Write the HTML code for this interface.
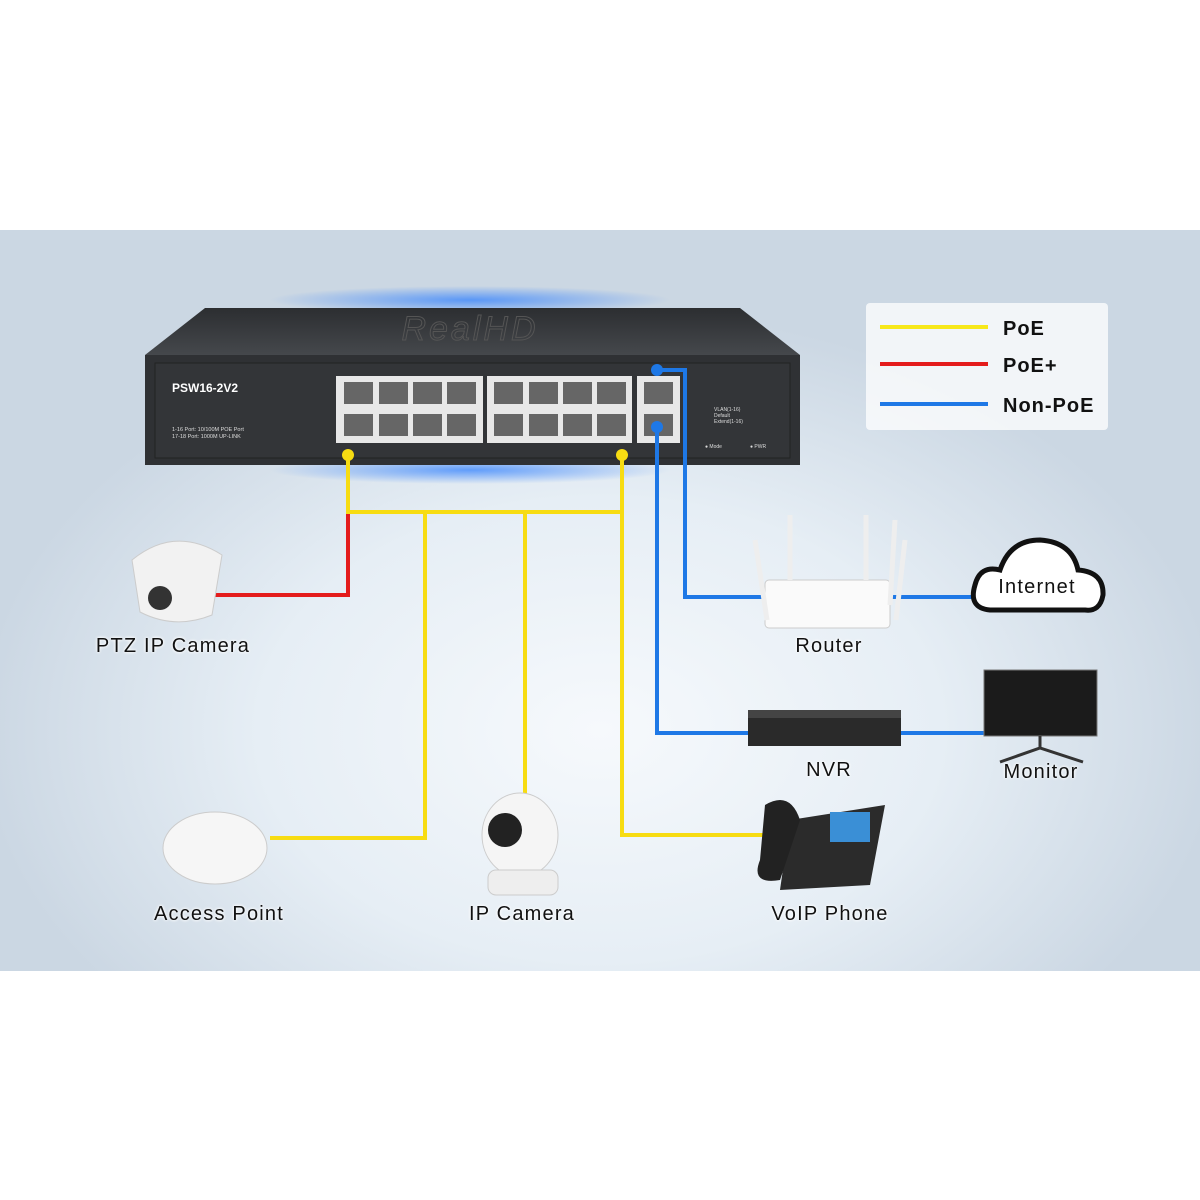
<!DOCTYPE html>
<html><head><style>
body{margin:0;width:1200px;height:1200px;background:#fff;position:relative;overflow:hidden;font-family:"Liberation Sans",sans-serif}
.bg{position:absolute;left:0;top:230px;width:1200px;height:741px;background:radial-gradient(ellipse 620px 420px at 600px 500px,#f6f9fc 0%,#e6eef5 55%,#cbd7e3 100%)}
.lbl{position:absolute;font-size:20px;letter-spacing:1.2px;color:#111;text-shadow:0 0 3px #fff,0 0 3px #fff;transform:translateX(-50%);white-space:nowrap}
</style></head><body>
<div class="bg"></div>
<svg width="1200" height="1200" style="position:absolute;left:0;top:0">
<defs>
<radialGradient id="glow" cx="50%" cy="50%" r="50%"><stop offset="0" stop-color="#2a7cff" stop-opacity=".7"/><stop offset="1" stop-color="#2a7cff" stop-opacity="0"/></radialGradient>
<linearGradient id="top" x1="0" y1="0" x2="0" y2="1"><stop offset="0" stop-color="#2c2e31"/><stop offset="1" stop-color="#45484c"/></linearGradient>
</defs>
<ellipse cx="470" cy="300" rx="200" ry="14" fill="url(#glow)"/>
<ellipse cx="470" cy="470" rx="200" ry="14" fill="url(#glow)"/>
<polygon points="205,308 740,308 800,355 145,355" fill="url(#top)"/>
<text x="470" y="340" font-size="34" font-style="italic" fill="none" stroke="#555" font-family="Liberation Sans" text-anchor="middle" letter-spacing="3">RealHD</text>
<rect x="145" y="355" width="655" height="110" fill="#2f3134"/>
<rect x="155" y="363" width="635" height="95" fill="#333538" stroke="#222" />
<text x="172" y="392" font-size="12" font-weight="bold" fill="#fff">PSW16-2V2</text>
<text x="172" y="431" font-size="5.5" fill="#ddd">1-16 Port: 10/100M POE Port</text>
<text x="172" y="438" font-size="5.5" fill="#ddd">17-18 Port: 1000M UP-LINK</text>
<rect x="336" y="376" width="147" height="67" fill="#e8e8e8"/>
<rect x="487" y="376" width="145" height="67" fill="#e8e8e8"/>
<rect x="637" y="376" width="43" height="67" fill="#e8e8e8"/>
<g fill="#666">
<rect x="344" y="382" width="29" height="22"/><rect x="379" y="382" width="29" height="22"/><rect x="413" y="382" width="29" height="22"/><rect x="447" y="382" width="29" height="22"/>
<rect x="344" y="414" width="29" height="22"/><rect x="379" y="414" width="29" height="22"/><rect x="413" y="414" width="29" height="22"/><rect x="447" y="414" width="29" height="22"/>
<rect x="494" y="382" width="29" height="22"/><rect x="529" y="382" width="29" height="22"/><rect x="563" y="382" width="29" height="22"/><rect x="597" y="382" width="29" height="22"/>
<rect x="494" y="414" width="29" height="22"/><rect x="529" y="414" width="29" height="22"/><rect x="563" y="414" width="29" height="22"/><rect x="597" y="414" width="29" height="22"/>
<rect x="644" y="382" width="29" height="22"/><rect x="644" y="414" width="29" height="22"/>
</g>
<text x="705" y="448" font-size="5" fill="#ddd">● Mode</text><text x="750" y="448" font-size="5" fill="#ddd">● PWR</text>
<text x="714" y="411" font-size="5" fill="#ddd">VLAN(1-16)</text><text x="714" y="417" font-size="5" fill="#ddd">Default</text><text x="714" y="423" font-size="5" fill="#ddd">Extend(1-16)</text>
<g fill="none" stroke-width="4">
<path d="M348,512 V595 H210" stroke="#e41c1c"/>
<path d="M348,455 V512 H622 V455 M425,512 V838 H270 M525,512 V795 M622,512 V835 H770" stroke="#f7dc12"/>
<path d="M657,427 V733 H750 M900,733 H985 M657,370 H685 V597 H765 M890,597 H975" stroke="#1e78e6"/>
</g>
<circle cx="348" cy="455" r="6" fill="#f7dc12"/><circle cx="622" cy="455" r="6" fill="#f7dc12"/>
<circle cx="657" cy="370" r="6" fill="#1e78e6"/><circle cx="657" cy="427" r="6" fill="#1e78e6"/>
<rect x="866" y="303" width="242" height="127" rx="4" fill="#fff" fill-opacity=".75"/>
<line x1="880" y1="327" x2="988" y2="327" stroke="#f7e81a" stroke-width="4"/>
<line x1="880" y1="364" x2="988" y2="364" stroke="#e41c1c" stroke-width="4"/>
<line x1="880" y1="404" x2="988" y2="404" stroke="#1e78e6" stroke-width="4"/>
<g font-size="20" font-weight="bold" fill="#111" letter-spacing="1"><text x="1003" y="335">PoE</text><text x="1003" y="372">PoE+</text><text x="1003" y="412">Non-PoE</text></g>
<path d="M132,560 Q175,525 222,555 L212,615 Q175,630 140,612 Z" fill="#f2f2f2" stroke="#ccc"/>
<circle cx="160" cy="598" r="12" fill="#333"/>
<ellipse cx="215" cy="848" rx="52" ry="36" fill="#f6f6f6" stroke="#ccc"/>
<ellipse cx="520" cy="835" rx="38" ry="42" fill="#f5f5f5" stroke="#ccc"/>
<circle cx="505" cy="830" r="17" fill="#222"/>
<rect x="488" y="870" width="70" height="25" rx="8" fill="#eee" stroke="#ccc"/>
<polygon points="790,820 885,805 870,885 780,890" fill="#2b2b2b"/>
<rect x="830" y="812" width="40" height="30" fill="#3a8fd6"/>
<path d="M765,805 Q790,790 800,820 L780,880 Q750,885 760,860 Z" fill="#222"/>
<rect x="765" y="580" width="125" height="48" rx="4" fill="#fafafa" stroke="#ccc"/>
<g stroke="#eee" stroke-width="5"><line x1="755" y1="540" x2="767" y2="620"/><line x1="790" y1="515" x2="790" y2="580"/><line x1="866" y1="515" x2="866" y2="580"/><line x1="895" y1="520" x2="890" y2="605"/><line x1="905" y1="540" x2="896" y2="620"/></g>
<rect x="748" y="710" width="153" height="36" fill="#2a2a2a"/><rect x="748" y="710" width="153" height="8" fill="#444"/>
<rect x="984" y="670" width="113" height="66" fill="#1b1b1b" stroke="#777"/>
<path d="M1040,736 V748 M1000,762 L1040,748 L1083,762" stroke="#333" stroke-width="3" fill="none"/>
<path d="M990,610 Q968,608 975,585 Q980,565 1000,570 Q1010,540 1040,540 Q1072,542 1078,570 Q1104,572 1103,595 Q1100,612 1085,610 Z" fill="#fff" stroke="#111" stroke-width="5"/>
</svg>
<div class="lbl" style="left:173px;top:635px">PTZ IP Camera</div>
<div class="lbl" style="left:219px;top:903px">Access Point</div>
<div class="lbl" style="left:522px;top:903px">IP Camera</div>
<div class="lbl" style="left:830px;top:903px">VoIP Phone</div>
<div class="lbl" style="left:829px;top:635px">Router</div>
<div class="lbl" style="left:829px;top:759px">NVR</div>
<div class="lbl" style="left:1041px;top:761px">Monitor</div>
<div class="lbl" style="left:1037px;top:576px">Internet</div>
</body></html>
